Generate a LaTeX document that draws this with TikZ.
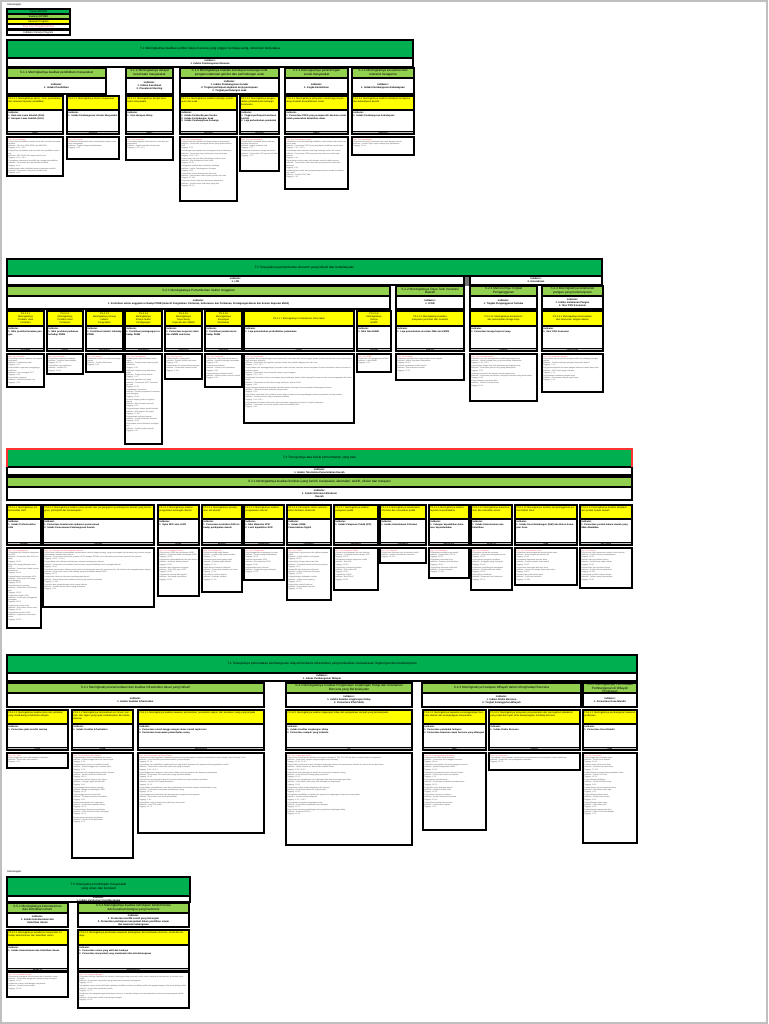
\documentclass[tikz,border=0pt]{standalone}
\usepackage{fontspec}
\setmainfont{Liberation Sans}
\usetikzlibrary{positioning}
\definecolor{hijau}{RGB}{0,176,80}
\definecolor{hijaumuda}{RGB}{146,208,80}
\definecolor{kuning}{RGB}{255,255,0}
\definecolor{merahmuda}{RGB}{255,80,80}
\definecolor{abu}{RGB}{85,85,85}
\tikzset{
  kotak/.style={draw=black, line width=0.7pt, fill=white},
  bayang/.style={fill=black!55},
  judul/.style={inner sep=0.5pt, align=center, font=\fontsize{1.8}{2.1}\selectfont},
  indik/.style={inner sep=0.5pt, align=center, font=\bfseries\fontsize{1.4}{1.7}\selectfont},
  tprg/.style={inner sep=0.8pt, align=left, font=\fontsize{1.35}{1.65}\selectfont},
  tind/.style={anchor=north, inner sep=0.8pt, align=left, font=\bfseries\fontsize{1.3}{1.6}\selectfont},
  tunit/.style={inner sep=0pt, font=\bfseries\fontsize{0.9}{1}\selectfont},
  tkeg/.style={anchor=north, inner sep=0.8pt, align=left, text=abu, font=\fontsize{1.05}{1.25}\selectfont},
  tleg/.style={inner sep=0pt, font=\fontsize{1.5}{1.7}\selectfont}
}
\newif\iftengah
\newcommand\ak[3]{#1\\Indikator: #2\\Tagging: #3\par\vspace{0.5pt}}
\newcommand\tujuan[9]{%
  \fill[bayang] ({#2+1.2},{#3+1.2}) rectangle ({#5+1.2},{#6+1.2});
  \filldraw[kotak] (#2,#3) rectangle (#5,#6);
  \filldraw[kotak,fill=#7] (#2,#3) rectangle (#5,#4);
  \node[judul] (#1) at ({(#2+#5)/2},{(#3+#4)/2}) {#8};
  \node[indik] (#1-i) at ({(#2+#5)/2},{(#4+#6)/2}) {#9};}
\newcommand\program[9]{%
  \pgfmathsetmacro\lbr{(#5-#2)*0.569-1.6}%
  \fill[bayang] ({#2+1.2},{#3+1.2}) rectangle ({#5+1.2},{#6+1.2});
  \filldraw[kotak] (#2,#3) rectangle (#5,#6);
  \filldraw[kotak,fill=kuning] (#2,#3) rectangle (#5,#4);
  \filldraw[kotak,fill=black!22] (#2,{#6-2.8}) rectangle (#5,#6);
  \iftengah
  \node[tprg,align=center,text width=\lbr pt] (#1) at ({(#2+#5)/2},{(#3+#4)/2}) {#7};
  \else
  \node[tprg,anchor=north,text width=\lbr pt] (#1) at ({(#2+#5)/2},#3) {#7};
  \fi
  \node[tind,text width=\lbr pt] (#1-i) at ({(#2+#5)/2},#4) {#8};
  \node[tunit] (#1-u) at ({(#2+#5)/2},{#6-1.4}) {#9};}
\newcommand\kegiatan[7]{%
  \pgfmathsetmacro\lbr{(#4-#2)*0.569-1.6}%
  \fill[bayang] ({#2+1.2},{#3+1.2}) rectangle ({#4+1.2},{#5+1.2});
  \filldraw[kotak] (#2,#3) rectangle (#4,#5);
  \node[tkeg,text width=\lbr pt] (#1) at ({(#2+#4)/2},#3) {\textcolor{merahmuda}{#6}\par #7};}
\newcommand\legenda[5]{%
  \fill[bayang] (8.2,{#2+1.2}) rectangle (71.2,{#2+6.2});
  \filldraw[kotak,fill=#3] (7,#2) rectangle (70,{#2+5});
  \node[tleg,text=#4] (#1) at (38.5,{#2+2.5}) {#5};}

\begin{document}
\begin{tikzpicture}[x=0.02cm, y=-0.02cm]
\useasboundingbox (0,0) rectangle (768,1024);
\draw[black!25, line width=0.9pt] (0.8,0.8) rectangle (767.2,1023.2);

\node[tleg, anchor=west] (ket) at (7,5) {Keterangan:};
\legenda{lg1}{9}{hijau}{black}{Tujuan RPJMD}
\legenda{lg2}{14}{hijaumuda}{black}{Sasaran RPJMD}
\legenda{lg3}{19}{kuning}{black}{Sasaran Program}
\legenda{lg4}{24}{white}{merahmuda}{Keg. Pro / Proyek Prioritas}
\legenda{lg5}{30}{white}{black}{Indikator Kinerja Program}

% tujuan 1
\tujuan{t1}{7}{40}{58}{413}{67}{hijau}{T.1 Meningkatnya kualitas sumber daya manusia yang unggul, berdaya saing, sehat dan berbudaya}{Indikator:\\1. Indeks Pembangunan Manusia}
\tujuan{s11}{7}{68}{78}{106}{94}{hijaumuda}{S.1.1 Meningkatnya kualitas pendidikan masyarakat}{Indikator:\\1. Indeks Pendidikan}
\tujuan{s12}{126}{68}{78}{173}{94}{hijaumuda}{S.1.2 Meningkatnya derajat\\kesehatan masyarakat}{Indikator:\\1. Indeks Kesehatan\\2. Prevalensi Stunting}
\tujuan{s13}{180}{68}{78}{279}{94}{hijaumuda}{S.1.3 Meningkatnya kualitas kehidupan keluarga serta\\pengarusutamaan gender dan perlindungan anak}{Indikator:\\1. Indeks Pembangunan Gender\\2. Tingkat partisipasi angkatan kerja perempuan\\3. Tingkat perlindungan anak}
\tujuan{s14}{285}{68}{78}{348}{94}{hijaumuda}{S.1.4 Meningkatnya perlindungan\\sosial masyarakat}{Indikator:\\1. Angka Kemiskinan}
\tujuan{s15}{352}{68}{78}{414}{94}{hijaumuda}{S.1.5 Meningkatnya kesalehan dan\\toleransi beragama}{Indikator:\\1. Indeks Pembangunan Kebudayaan}

\program{p111}{7}{96}{110}{63}{134}{PS.1.1.1 Meningkatnya akses, mutu, pemerataan, dan relevansi layanan pendidikan}{Indikator:\\1. Rata-rata Lama Sekolah (RLS)\\2. Harapan Lama Sekolah (HLS)}{DISDIK}
\program{p112}{67}{96}{110}{119}{134}{PS.1.1.2 Meningkatnya literasi masyarakat}{Indikator:\\1. Indeks Pembangunan Literasi Masyarakat}{DISARPUS}
\program{p121}{126}{96}{110}{173}{134}{PS.1.2.1 Meningkatnya derajat kesehatan masyarakat}{Indikator:\\1. Usia Harapan Hidup}{DINKES}
\program{p131}{180}{96}{110}{237}{134}{PS.1.3.1 Meningkatnya kualitas keluarga, perempuan dan anak}{Indikator:\\1. Indeks Pemberdayaan Gender\\2. Indeks Perlindungan Anak\\3. Indeks Pembangunan Keluarga}{DP3AP2KB}
\program{p132}{240}{96}{110}{279}{134}{PS.1.3.2 Meningkatnya pengendalian penduduk dan keluarga berencana}{Indikator:\\1. Tingkat partisipasi kesertaan ber-KB\\2. Laju pertumbuhan penduduk}{DP3AP2KB}
\program{p141}{285}{96}{110}{348}{134}{PS.1.4.1 Meningkatnya pelayanan sosial bagi penyandang masalah kesejahteraan sosial}{Indikator:\\1. Persentase PPKS yang memperoleh bantuan sosial untuk pemenuhan kebutuhan dasar}{DINSOS}
\program{p151}{352}{96}{110}{414}{134}{PS.1.5.1 Meningkatnya kualitas kehidupan beragama dan kebudayaan daerah}{Indikator:\\1. Indeks Pembangunan Kebudayaan}{DISBUDPAR}

\kegiatan{k111}{7}{137}{63}{176}{Keg. Pro Pendidikan}{%
\ak{Pengelolaan pendidikan sekolah dasar dan sekolah menengah pertama}{APK dan APM SD/MI dan SMP/MTs}{4.1.1, 4.2.2}
\ak{Pengelolaan pendidikan anak usia dini dan pendidikan nonformal}{APK PAUD dan angka melek huruf}{4.2.1, 4.6.1}
\ak{Peningkatan kompetensi pendidik dan tenaga kependidikan}{Persentase guru bersertifikat pendidik}{4.c.1}
\ak{Pembangunan dan rehabilitasi sarana prasarana sekolah}{Persentase ruang kelas kondisi baik}{4.a.1}}
\kegiatan{k112}{67}{137}{119}{159}{Keg. Pro Literasi}{%
\ak{Pembinaan perpustakaan dan pembudayaan gemar membaca masyarakat}{Tingkat Kegemaran Membaca}{4.6.1}}
\kegiatan{k121}{126}{137}{173}{160}{Keg. Pro Kesehatan}{%
\ak{Penyediaan layanan kesehatan ibu, anak dan gizi masyarakat}{Angka kematian ibu dan bayi}{2.2.1, 3.1.1}}
\kegiatan{k131}{180}{137}{237}{201}{Keg. Pro Pemberdayaan}{%
\ak{Pengarusutamaan gender dan pemberdayaan perempuan}{Persentase perangkat daerah yang melaksanakan PUG}{5.1.1}
\ak{Perlindungan perempuan dan penanganan kasus kekerasan}{Persentase kasus kekerasan yang tertangani}{5.2.1, 5.2.2}
\ak{Pemenuhan hak anak dan perlindungan khusus anak}{Nilai Kabupaten Layak Anak}{16.2.1}
\ak{Peningkatan kualitas dan ketahanan keluarga}{Indeks Pembangunan Keluarga}{5.4.1}
\ak{Pengelolaan sistem data gender dan anak}{Ketersediaan data terpilah gender dan anak}{17.18.1}
\ak{Penguatan forum anak dan partisipasi masyarakat}{Jumlah forum anak desa yang aktif}{16.7.2}}
\kegiatan{k132}{240}{137}{279}{171}{Keg. Pro Kependudukan}{%
\ak{Pengendalian penduduk dan pembinaan keluarga berencana}{Angka kelahiran total}{3.7.1}
\ak{Pembinaan ketahanan remaja dan lansia}{Persentase PUS peserta KB aktif}{3.7.2}}
\kegiatan{k141}{285}{137}{348}{189}{Keg. Pro Perlindungan Sosial}{%
\ak{Rehabilitasi sosial penyandang disabilitas, anak terlantar dan lanjut usia di luar panti}{Persentase PPKS yang mendapat rehabilitasi sosial dasar}{1.3.1, 10.2.1}
\ak{Perlindungan dan jaminan sosial bagi keluarga miskin dan rentan}{Persentase KPM yang menerima bantuan sosial tepat sasaran}{1.3.1}
\ak{Penanganan bencana dan perlindungan sosial korban bencana}{Persentase korban bencana yang terpenuhi kebutuhan dasarnya}{1.5.1}
\ak{Pemberdayaan sosial dan pengembangan potensi sumber kesejahteraan sosial}{Jumlah PSKS aktif}{1.4.1}}
\kegiatan{k151}{352}{137}{414}{155}{Keg. Pro Kebudayaan}{%
\ak{Pelestarian kesenian tradisional dan cagar budaya daerah}{Jumlah objek cagar budaya yang dilestarikan}{11.4.1}}

% tujuan 2
\fill[bayang] (8.2,260.2) rectangle (603.2,286.2);
\filldraw[kotak,fill=hijau] (7,259) rectangle (602,276);
\filldraw[kotak] (7,276) rectangle (464,285);
\filldraw[kotak] (470,276) rectangle (602,285);
\node[judul] (t2) at (304.5,267.5) {T.2 Terwujudnya pertumbuhan ekonomi yang inklusif dan berkelanjutan};
\node[indik] (t2-i) at (235.5,280.5) {Indikator:\\1. LPE};
\node[indik] (t2-j) at (536,280.5) {Indikator:\\2. Kemiskinan};
\tujuan{s21}{7}{286}{296}{390}{309}{hijaumuda}{S.2.1 Meningkatnya Pertumbuhan Sektor Unggulan}{Indikator:\\1. Kontribusi sektor unggulan terhadap PDRB (Industri Pengolahan, Pertanian, Kehutanan, dan Perikanan, Perdagangan Besar dan Eceran Reparasi Mobil)}
\tujuan{s22}{396}{286}{296}{464}{309}{hijaumuda}{S.2.2 Meningkatnya Daya Tarik Investasi\\Daerah}{Indikator:\\1. ICOR}
\tujuan{s23}{470}{286}{296}{537}{309}{hijaumuda}{S.2.3 Menurunnya Tingkat\\Pengangguran}{Indikator:\\1. Tingkat Pengangguran Terbuka}
\tujuan{s24}{542}{286}{296}{603}{309}{hijaumuda}{S.2.4 Meningkatnya ketahanan\\pangan yang berkelanjutan}{Indikator:\\1. Indeks Ketahanan Pangan\\2. Skor PPH Konsumsi}

\tengahtrue
\program{p211}{7}{311}{326}{44}{351}{PS.2.1.1\\Meningkatnya\\Produksi Hasil\\Pertanian}{Indikator:\\1. Nilai produksi tanaman pangan}{DISTANBUN}
\program{p212}{47}{311}{326}{83}{351}{PS.2.1.2\\Meningkatnya\\Produksi Hasil\\Perikanan}{Indikator:\\1. Nilai produksi perikanan terhadap PDRB}{DISKAN}
\program{p213}{86}{311}{326}{123}{351}{PS.2.1.3\\Meningkatnya Kinerja\\Industri\\Pengolahan}{Indikator:\\1. Kontribusi industri terhadap PDRB}{DISPERINDAG}
\program{p214}{125}{311}{326}{162}{351}{PS.2.1.4\\Meningkatnya\\Kinerja Sektor\\Perdagangan}{Indikator:\\1. Kontribusi perdagangan terhadap PDRB}{DISPERINDAG}
\program{p215}{165}{311}{326}{202}{351}{PS.2.1.5\\Meningkatnya\\Daya Saing\\Koperasi dan UMKM}{Indikator:\\1. Persentase koperasi sehat dan UMKM naik kelas}{DISKOPUKM}
\program{p216}{205}{311}{326}{242}{351}{PS.2.1.6\\Meningkatnya\\Kunjungan\\Wisatawan}{Indikator:\\1. Kontribusi pariwisata terhadap PDRB}{DISBUDPAR}
\program{p217}{244}{311}{326}{354}{351}{PS.2.1.7 Meningkatnya Produktivitas Peternakan}{Indikator:\\1. Laju pertumbuhan produktivitas peternakan}{DISNAK}
\program{p218}{357}{311}{326}{391}{351}{PS.2.1.8\\Meningkatnya\\Kinerja\\BUMD}{Indikator:\\1. Nilai laba BUMD}{EKONOMI}
\program{p221}{396}{311}{326}{464}{351}{PS.2.2.1 Meningkatnya kualitas\\pelayanan perizinan dan investasi}{Indikator:\\1. Laju pertumbuhan investasi PMA dan PMDN}{DPMPTSP}
\program{p231}{470}{311}{326}{537}{351}{PS.2.3.1 Meningkatnya kompetensi\\dan penempatan tenaga kerja}{Indikator:\\1. Persentase tenaga kerja terserap}{DISNAKER}
\program{p241}{542}{311}{326}{603}{351}{PS.2.4.1 Meningkatnya ketersediaan\\dan keamanan pangan daerah}{Indikator:\\1. Skor PPH Konsumsi}{DISKETAPANG}
\tengahfalse

\kegiatan{k211}{7}{354}{44}{387}{Keg. Pro Pertanian}{%
\ak{Penyediaan sarana pertanian dan pupuk bersubsidi}{Produktivitas padi}{2.3.1}
\ak{Pengendalian organisme pengganggu tumbuhan}{Luas serangan OPT}{2.4.1}
\ak{Penyuluhan pertanian}{Jumlah kelompok tani}{2.3.2}}
\kegiatan{k212}{47}{354}{83}{374}{Keg. Pro Perikanan}{%
\ak{Pengelolaan perikanan budidaya}{Produksi ikan budidaya}{14.7.1}
\ak{Pengolahan hasil perikanan}{Jumlah UPI}{14.b.1}}
\kegiatan{k213}{86}{354}{123}{372}{Keg. Pro Industri}{%
\ak{Pembinaan industri kecil dan menengah daerah}{Jumlah IKM binaan}{9.3.1}}
\kegiatan{k214}{125}{354}{162}{444}{Keg. Pro Perdagangan}{%
\ak{Pembangunan dan revitalisasi pasar rakyat}{Jumlah pasar rakyat yang direvitalisasi}{8.3.1}
\ak{Stabilisasi harga barang kebutuhan pokok}{Tingkat inflasi daerah}{2.c.1}
\ak{Metrologi legal dan tera ulang}{Persentase UTTP bertanda tera sah}{12.8.1}
\ak{Perlindungan konsumen}{Jumlah pengaduan konsumen yang ditangani}{12.8.1}
\ak{Promosi dagang produk unggulan daerah}{Nilai transaksi promosi}{8.2.1}
\ak{Pengembangan ekspor produk daerah}{Nilai ekspor non migas}{17.11.1}
\ak{Pengawasan distribusi barang}{Jumlah distributor terawasi}{12.8.1}
\ak{Penyediaan sarana distribusi perdagangan}{Jumlah gudang logistik}{9.1.1}}
\kegiatan{k215}{165}{354}{202}{379}{Keg. Pro Koperasi}{%
\ak{Pemberdayaan usaha mikro}{Jumlah UMKM naik kelas}{8.3.1}
\ak{Pengawasan dan pemeriksaan koperasi}{Persentase koperasi sehat}{8.10.1}}
\kegiatan{k216}{205}{354}{242}{387}{Keg. Pro Pariwisata}{%
\ak{Pengelolaan daya tarik wisata daerah}{Jumlah kunjungan wisatawan}{8.9.1}
\ak{Pemasaran pariwisata}{Jumlah event pariwisata}{8.9.1}
\ak{Pengembangan ekonomi kreatif}{Jumlah pelaku ekonomi kreatif}{8.3.1}}
\kegiatan{k217}{244}{354}{354}{423}{Keg. Pro Peternakan}{%
\ak{Penyediaan dan pengembangan sarana pertanian, benih dan bibit ternak unggul, pakan ternak serta alat dan mesin peternakan bagi kelompok peternak}{Persentase peningkatan populasi ternak dan produksi daging, telur dan susu}{2.3.1, 2.4.1}
\ak{Pengendalian dan penanggulangan penyakit hewan menular strategis serta peningkatan layanan kesehatan hewan di pusat kesehatan hewan}{Persentase kasus penyakit hewan yang tertangani}{2.5.1, 3.3.1}
\ak{Penjaminan kesehatan hewan, penutupan dan pembukaan daerah wabah penyakit hewan menular serta pengawasan lalu lintas ternak}{Persentase produk hewan yang memenuhi syarat ASUH}{3.d.1}
\ak{Pengembangan kawasan peternakan terpadu berbasis kelompok dan penguatan kelembagaan peternak}{Jumlah kelompok peternak yang mandiri}{2.3.2}
\ak{Penyuluhan peternakan dan pelatihan teknis bagi peternak serta pengembangan usaha pengolahan hasil peternakan}{Jumlah peternak yang mendapat pelatihan}{2.3.2, 8.3.1}
\ak{Pengawasan peredaran obat hewan dan kesehatan masyarakat veteriner di tingkat kabupaten}{Persentase unit usaha produk hewan bersertifikat NKV}{3.d.1}}
\kegiatan{k218}{357}{354}{391}{372}{Keg. Pro BUMD}{%
\ak{Pembinaan dan pengawasan BUMD}{Laba BUMD}{8.2.1}}
\kegiatan{k221}{396}{354}{464}{380}{Keg. Pro Investasi}{%
\ak{Pelayanan perizinan dan nonperizinan secara terpadu}{Indeks Kepuasan Masyarakat}{16.6.2}
\ak{Promosi penanaman modal daerah}{Nilai realisasi investasi}{17.5.1}}
\kegiatan{k231}{470}{354}{537}{401}{Keg. Pro Ketenagakerjaan}{%
\ak{Pelatihan kerja dan peningkatan produktivitas tenaga kerja}{Jumlah tenaga kerja yang bersertifikat kompetensi}{4.4.1, 8.6.1}
\ak{Penempatan tenaga kerja dan perluasan kesempatan kerja}{Persentase pencari kerja yang ditempatkan}{8.5.2}
\ak{Hubungan industrial dan jaminan sosial tenaga kerja}{Persentase perselisihan hubungan industrial yang diselesaikan}{8.8.2}
\ak{Pengembangan wirausaha baru}{Jumlah wirausaha baru}{8.3.1}}
\kegiatan{k241}{542}{354}{603}{392}{Keg. Pro Ketahanan Pangan}{%
\ak{Penyediaan dan penyaluran pangan pokok dan cadangan pangan daerah}{Jumlah cadangan pangan pemerintah daerah}{2.1.2}
\ak{Penganekaragaman konsumsi pangan berbasis sumber daya lokal}{Skor Pola Pangan Harapan}{2.1.1}
\ak{Pengawasan keamanan pangan segar}{Persentase pangan segar aman}{2.1.2}}

% tujuan 3
\tujuan{t3}{7}{449}{467}{632}{475}{hijau}{T.3 Terwujudnya tata kelola pemerintahan yang baik}{Indikator:\\1. Indeks Tata Kelola Pemerintahan Daerah}
\draw[red!80, line width=0.7pt] (7,467) -- (7,449) -- (632,449) -- (632,467);
\tujuan{s31}{7}{477}{487}{632}{500}{hijaumuda}{S.3.1 Meningkatnya kualitas birokrasi yang bersih, transparan, akuntabel, efektif, efisien dan melayani}{Indikator:\\1. Indeks Reformasi Birokrasi\\Daerah}

\program{p311}{7}{505}{519}{41}{545}{PS.3.1.1 Meningkatnya profesionalitas ASN}{Indikator:\\1. Indeks Profesionalitas ASN}{BKPSDM}
\program{p312}{43}{505}{519}{154}{545}{PS.3.1.2 Meningkatnya kualitas perencanaan dan penganggaran pembangunan daerah yang terintegrasi, partisipatif dan berkelanjutan}{Indikator:\\1. Persentase keselarasan dokumen perencanaan\\2. Indeks Perencanaan Pembangunan Daerah}{BAPPEDA}
\program{p313}{158}{505}{519}{199}{545}{PS.3.1.3 Meningkatnya kualitas pengelolaan keuangan daerah}{Indikator:\\1. Opini BPK atas LKPD}{BPKAD}
\program{p314}{202}{505}{519}{242}{545}{PS.3.1.4 Meningkatnya pendapatan asli daerah}{Indikator:\\1. Persentase kontribusi PAD terhadap pendapatan daerah}{BAPENDA}
\program{p315}{244}{505}{519}{284}{545}{PS.3.1.5 Meningkatnya kualitas pengawasan internal}{Indikator:\\1. Nilai Maturitas SPIP\\2. Level kapabilitas APIP}{INSPEKTORAT}
\program{p316}{287}{505}{519}{331}{545}{PS.3.1.6 Penerapan sistem pemerintahan berbasis elektronik}{Indikator:\\1. Indeks SPBE\\Pemerintahan Digital}{DISKOMINFO}
\program{p317}{334}{505}{519}{378}{545}{PS.3.1.7 Meningkatnya kualitas pelayanan publik}{Indikator:\\1. Indeks Pelayanan Publik (IPP)}{ORGANISASI}
\program{p318}{380}{505}{519}{426}{545}{PS.3.1.8 Meningkatnya keterbukaan informasi dan komunikasi publik}{Indikator:\\1. Indeks Keterbukaan Informasi}{DISKOMINFO}
\program{p319}{429}{505}{519}{469}{545}{PS.3.1.9 Meningkatnya kualitas layanan kependudukan}{Indikator:\\1. Cakupan kepemilikan dokumen kependudukan}{DISDUKCAPIL}
\program{p3110}{471}{505}{519}{512}{545}{PS.3.1.10 Meningkatnya ketenteraman dan ketertiban umum}{Indikator:\\1. Indeks Ketenteraman dan Ketertiban}{SATPOL PP}
\program{p3111}{515}{505}{519}{577}{545}{PS.3.1.11 Meningkatnya kualitas penyelenggaraan pemerintahan desa}{Indikator:\\1. Indeks Desa Membangun (IDM) dan Status Kemajuan Desa}{DPMD}
\program{p3112}{580}{505}{519}{632}{545}{PS.3.1.12 Meningkatnya kualitas kebijakan dan produk hukum daerah}{Indikator:\\1. Persentase produk hukum daerah yang tidak dibatalkan}{BAG. HUKUM}

\kegiatan{k311}{7}{548}{41}{628}{Keg. Pro Kepegawaian}{%
\ak{Pengadaan dan informasi kepegawaian ASN}{Persentase data ASN mutakhir}{16.6.1}
\ak{Mutasi dan pengembangan karier ASN}{Persentase jabatan sesuai kompetensi}{16.6.1}
\ak{Pengembangan kompetensi ASN}{Persentase ASN yang dikembangkan}{16.6.2}
\ak{Penilaian kinerja aparatur}{Persentase ASN kinerja baik}{16.6.1}
\ak{Pembinaan disiplin ASN}{Persentase pelanggaran tertangani}{16.5.1}
\ak{Pengelolaan sistem merit}{Nilai indeks sistem merit}{16.6.2}
\ak{Pengelolaan pensiun ASN}{Layanan pensiun tepat waktu}{16.6.2}}
\kegiatan{k312}{43}{548}{154}{607}{Keg. Pro Perencanaan Pembangunan Daerah}{%
\ak{Penyusunan dokumen perencanaan pembangunan daerah jangka panjang, jangka menengah dan tahunan yang selaras dengan perencanaan nasional dan provinsi}{Persentase kesesuaian program RKPD dengan RPJMD serta dokumen perencanaan nasional dan provinsi}{16.6.1, 17.14.1}
\ak{Pengendalian dan evaluasi pelaksanaan rencana pembangunan daerah}{Persentase rekomendasi hasil evaluasi yang ditindaklanjuti oleh perangkat daerah}{16.6.1}
\ak{Koordinasi perencanaan bidang pemerintahan, pembangunan manusia, perekonomian, infrastruktur dan pengembangan wilayah}{Persentase usulan musrenbang yang terakomodasi dalam RKPD}{16.7.1}
\ak{Pengelolaan data dan informasi pembangunan daerah}{Ketersediaan data statistik sektoral yang valid dan mutakhir}{17.18.1}
\ak{Penelitian dan pengembangan serta inovasi daerah}{Jumlah inovasi daerah yang diterapkan}{9.5.1}}
\kegiatan{k313}{158}{548}{199}{596}{Keg. Pro Keuangan Daerah}{%
\ak{Penyusunan APBD dan perubahan APBD}{Ketepatan waktu penetapan APBD}{16.6.1}
\ak{Pengelolaan perbendaharaan dan kas daerah}{Realisasi belanja daerah}{16.6.1}
\ak{Akuntansi dan pelaporan keuangan}{Opini BPK atas LKPD}{16.6.1}
\ak{Pengelolaan barang milik daerah}{Aset yang tersertifikasi}{16.6.1}}
\kegiatan{k314}{202}{548}{242}{592}{Keg. Pro Pendapatan}{%
\ak{Pendataan objek pajak daerah}{Jumlah wajib pajak terdaftar}{17.1.1}
\ak{Penetapan dan pemungutan pajak}{Realisasi pajak daerah}{17.1.2}
\ak{Pajak daerah berbasis elektronik}{Persentase transaksi non tunai}{17.1.1}
\ak{Intensifikasi retribusi daerah}{Realisasi retribusi}{17.1.2}}
\kegiatan{k315}{244}{548}{284}{580}{Keg. Pro Pengawasan}{%
\ak{Penyelenggaraan pengawasan internal}{Temuan yang ditindaklanjuti}{16.5.1}
\ak{Asistensi penerapan SPIP}{Nilai maturitas SPIP}{16.6.1}
\ak{Pengawasan tujuan tertentu}{Pengaduan yang ditangani}{16.5.2}}
\kegiatan{k316}{287}{548}{331}{600}{Keg. Pro SPBE}{%
\ak{Pengelolaan e-government dan aplikasi layanan publik}{Jumlah aplikasi terintegrasi}{16.6.2}
\ak{Infrastruktur jaringan dan pusat data}{Perangkat daerah terhubung jaringan}{9.c.1}
\ak{Persandian dan keamanan informasi}{Indeks keamanan informasi}{16.10.2}
\ak{Pengembangan kabupaten cerdas}{Indeks smart regency}{11.3.2}
\ak{Pengelolaan statistik sektoral}{Data statistik tersedia}{17.18.1}}
\kegiatan{k317}{334}{548}{378}{590}{Keg. Pro Pelayanan Publik}{%
\ak{Penataan kelembagaan dan tata laksana}{Perangkat daerah dengan SOP}{16.6.1}
\ak{Peningkatan kualitas pelayanan publik}{Nilai IKM}{16.6.2}
\ak{Pengelolaan reformasi birokrasi}{Nilai indeks RB}{16.6.1}
\ak{Pengelolaan SAKIP}{Nilai SAKIP}{16.6.1}}
\kegiatan{k318}{380}{548}{426}{563}{Keg. Pro Informasi}{%
\ak{Pengelolaan informasi dan komunikasi publik}{Indeks Keterbukaan Informasi}{16.10.2}}
\kegiatan{k319}{429}{548}{469}{578}{Keg. Pro Adminduk}{%
\ak{Pelayanan pendaftaran penduduk}{Kepemilikan KTP-el}{16.9.1}
\ak{Pelayanan pencatatan sipil}{Cakupan akta kelahiran}{16.9.1}
\ak{Pengelolaan informasi adminduk}{Data terintegrasi}{17.18.1}}
\kegiatan{k3110}{471}{548}{512}{590}{Keg. Pro Trantibum}{%
\ak{Penegakan perda dan perkada}{Persentase penegakan perda}{16.3.1}
\ak{Penanganan gangguan trantibum}{Gangguan yang tertangani}{16.1.4}
\ak{Pembinaan perlindungan masyarakat}{Jumlah satlinmas terlatih}{16.1.4}
\ak{Pencegahan kebakaran}{Response time kebakaran}{11.5.1}}
\kegiatan{k3111}{515}{548}{577}{585}{Keg. Pro Pemerintahan Desa}{%
\ak{Pembinaan penyelenggaraan pemerintahan desa}{Desa dengan tata kelola baik}{16.6.1}
\ak{Peningkatan kapasitas aparatur desa}{Jumlah aparatur desa terlatih}{16.6.2}
\ak{Pengelolaan keuangan dan aset desa}{Laporan keuangan desa tepat waktu}{16.6.1}
\ak{Penataan dan administrasi desa}{Profil desa mutakhir}{17.18.1}}
\kegiatan{k3112}{580}{548}{632}{588}{Keg. Pro Hukum}{%
\ak{Penyusunan dan harmonisasi produk hukum daerah}{Produk hukum yang ditetapkan}{16.3.1}
\ak{Bantuan dan penyuluhan hukum}{Jumlah desa sadar hukum}{16.3.1}
\ak{Dokumentasi dan informasi hukum}{Produk hukum terpublikasi}{16.10.2}
\ak{Penanganan perkara hukum daerah}{Perkara yang dimenangkan}{16.3.1}}

% tujuan 4
\tujuan{t4}{7}{655}{673}{637}{681}{hijau}{T.4 Terwujudnya pemerataan pembangunan wilayah berbasis infrastruktur yang berkualitas, berwawasan lingkungan dan berkelanjutan}{Indikator:\\1. Indeks Pembangunan Wilayah}
\tujuan{s41}{7}{683}{693}{264}{707}{hijaumuda}{S.4.1 Meningkatnya ketersediaan dan kualitas infrastruktur dasar yang inklusif}{Indikator:\\1. Indeks Kualitas Infrastruktur}
\tujuan{s42}{286}{683}{693}{412}{707}{hijaumuda}{S.4.2 Meningkatnya Kualitas Pengelolaan Lingkungan Hidup dan Ketahanan\\Bencana yang Berkelanjutan}{Indikator:\\1. Indeks Kualitas Lingkungan Hidup\\2. Persentase RTH Publik}
\tujuan{s43}{422}{683}{693}{581}{707}{hijaumuda}{S.4.3 Meningkatnya Kesiapan Wilayah dalam Menghadapi Bencana}{Indikator:\\1. Indeks Risiko Bencana\\2. Tingkat Ketangguhan Wilayah}
\tujuan{s44}{583}{683}{693}{637}{707}{hijaumuda}{S.4.4 Meningkatnya Pemerataan\\Pembangunan di Wilayah\\Perdesaan}{Indikator:\\1. Persentase Desa Mandiri}

\program{p411}{7}{710}{724}{68}{750}{PS.4.1.1 Meningkatnya kualitas jalan dan jembatan yang mendukung konektivitas wilayah}{Indikator:\\1. Persentase jalan kondisi mantap}{DPUPR}
\program{p412}{72}{710}{724}{133}{750}{PS.4.1.2 Meningkatnya ketersediaan air minum, sanitasi, dan irigasi yang layak, berkelanjutan dan berketahanan}{Indikator:\\1. Indeks Kualitas Infrastruktur}{DPUPR}
\program{p413}{138}{710}{724}{264}{750}{PS.4.1.3 Meningkatnya kualitas kawasan permukiman, perumahan rakyat, dan penataan ruang yang terpadu}{Indikator:\\1. Persentase rumah tangga dengan akses rumah layak huni\\2. Persentase kesesuaian pemanfaatan ruang}{DISPERKIMTAN}
\program{p421}{286}{710}{724}{412}{750}{PS.4.2.1 Meningkatnya kualitas lingkungan hidup dan pengelolaan sampah yang berkelanjutan}{Indikator:\\1. Indeks Kualitas Lingkungan Hidup\\2. Persentase sampah yang terkelola}{DLH}
\program{p431}{423}{710}{724}{486}{750}{PS.4.3.1 Meningkatnya kapasitas penanggulangan bencana daerah dan kesiapsiagaan masyarakat}{Indikator:\\1. Persentase penduduk terlayani\\2. Persentase kawasan rawan bencana yang ditangani}{BPBD}
\program{p432}{489}{710}{724}{580}{750}{PS.4.3.2 Meningkatnya pelayanan penyelamatan dan pencegahan kebakaran yang cepat dan tepat serta kesiapsiagaan terhadap bencana}{Indikator:\\1. Indeks Risiko Bencana}{DAMKAR}
\program{p441}{583}{710}{724}{637}{750}{PS.4.4.1 Meningkatnya pembangunan kawasan perdesaan}{Indikator:\\1. Persentase Desa Mandiri}{DPMD}

\kegiatan{k411}{7}{753}{68}{768}{Keg. Pro Jalan}{%
\ak{Penyelenggaraan jalan dan jembatan kabupaten}{Persentase jalan mantap}{9.1.1}}
\kegiatan{k412}{72}{753}{133}{858}{Keg. Pro Air Minum dan Sanitasi}{%
\ak{Pengembangan sistem penyediaan air minum}{Rumah tangga akses air minum layak}{6.1.1}
\ak{Pengembangan sistem air limbah domestik}{Rumah tangga akses sanitasi layak}{6.2.1}
\ak{Pengelolaan dan pengembangan sistem drainase}{Saluran drainase kondisi baik}{11.5.2}
\ak{Pengelolaan sumber daya air dan irigasi}{Jaringan irigasi kondisi baik}{6.4.1}
\ak{Penyelenggaraan bangunan gedung}{Bangunan gedung ber-PBG}{11.1.1}
\ak{Penyelenggaraan jasa konstruksi}{Tenaga konstruksi bersertifikat}{8.5.1}
\ak{Penataan bangunan dan lingkungan}{Persentase kawasan tertata}{11.3.1}
\ak{Pengembangan kawasan permukiman}{Luas kawasan kumuh tertangani}{11.1.1}
\ak{Pembangunan air bersih perdesaan}{Jumlah SPAM perdesaan}{6.1.1}}
\kegiatan{k413}{138}{753}{264}{833}{Keg. Pro Perumahan dan Permukiman}{%
\ak{Pendataan penyelenggaraan kawasan permukiman dan penanganan kawasan permukiman kumuh dengan luas di bawah 10 ha}{Luas kawasan permukiman kumuh yang tertangani}{11.1.1}
\ak{Penyediaan dan rehabilitasi rumah layak huni bagi korban bencana dan masyarakat berpenghasilan rendah}{Persentase rumah tidak layak huni yang tertangani}{1.4.1, 11.1.1}
\ak{Penyelenggaraan prasarana, sarana dan utilitas umum perumahan dan kawasan permukiman}{Persentase PSU perumahan yang diserahterimakan}{11.1.1}
\ak{Penyusunan rencana tata ruang dan rencana detail tata ruang kawasan perkotaan}{Jumlah RDTR yang ditetapkan}{11.3.1}
\ak{Pengendalian pemanfaatan ruang dan pelaksanaan kesesuaian kegiatan pemanfaatan ruang}{Persentase kesesuaian pemanfaatan ruang}{11.3.1}
\ak{Penyelenggaraan pertanahan dan penyelesaian sengketa tanah garapan}{Persentase aset tanah bersertifikat}{1.4.2}
\ak{Penyediaan ruang terbuka hijau publik dan taman kota}{Luas RTH publik}{11.7.1}}
\kegiatan{k421}{286}{753}{412}{845}{Keg. Pro Lingkungan Hidup}{%
\ak{Pengelolaan persampahan melalui penanganan sampah di TPA, TPS 3R dan bank sampah berbasis masyarakat}{Persentase sampah yang tertangani dan terkurangi}{11.6.1, 12.5.1}
\ak{Pengendalian pencemaran dan kerusakan lingkungan hidup serta pemantauan kualitas air, udara dan tutupan lahan}{Indeks Kualitas Air dan Indeks Kualitas Udara}{6.3.2, 11.6.2}
\ak{Pengelolaan keanekaragaman hayati dan konservasi kawasan lindung}{Luas kawasan lindung yang terpelihara}{15.1.2}
\ak{Pembinaan dan pengawasan izin lingkungan dan dokumen lingkungan hidup}{Persentase usaha yang taat terhadap izin lingkungan}{12.6.1}
\ak{Pengelolaan limbah bahan berbahaya dan beracun}{Persentase limbah B3 yang terkelola}{12.4.2}
\ak{Peningkatan pendidikan, pelatihan dan penyuluhan lingkungan hidup untuk masyarakat}{Jumlah sekolah adiwiyata}{4.7.1, 13.3.1}
\ak{Penanganan pengaduan lingkungan hidup}{Persentase pengaduan yang ditangani}{16.7.2}
\ak{Penyusunan rencana perlindungan dan pengelolaan lingkungan hidup}{Dokumen RPPLH}{11.a.1}}
\kegiatan{k431}{423}{753}{486}{830}{Keg. Pro Penanggulangan Bencana}{%
\ak{Pelayanan informasi rawan bencana}{Persentase desa tangguh bencana}{11.b.2}
\ak{Pelayanan pencegahan dan kesiapsiagaan bencana}{Jumlah masyarakat terlatih}{13.1.3}
\ak{Pelayanan penyelamatan dan evakuasi korban}{Persentase korban terevakuasi}{1.5.1}
\ak{Penanganan pascabencana}{Persentase rehabilitasi pascabencana}{11.5.2}
\ak{Pengkajian risiko bencana daerah}{Dokumen kajian risiko}{13.1.2}
\ak{Penyusunan rencana kontinjensi}{Jumlah dokumen kontinjensi}{13.1.2}
\ak{Pengelolaan logistik kebencanaan}{Ketersediaan logistik}{1.5.1}}
\kegiatan{k432}{489}{753}{580}{770}{Keg. Pro Kebakaran}{%
\ak{Pencegahan, pengendalian, pemadaman, penyelamatan dan penanganan bahan berbahaya}{Response time penanganan kebakaran}{11.5.1}}
\kegiatan{k441}{583}{753}{637}{843}{Keg. Pro Perdesaan}{%
\ak{Penyelenggaraan penataan desa}{Jumlah desa definitif}{16.6.1}
\ak{Fasilitasi kerja sama antar desa}{Jumlah kerja sama desa}{17.17.1}
\ak{Pemberdayaan lembaga kemasyarakatan desa}{Jumlah LKD aktif}{16.7.2}
\ak{Pengembangan BUMDes}{Jumlah BUMDes maju}{8.3.1}
\ak{Pembangunan sarana prasarana desa}{Infrastruktur desa baik}{9.1.1}
\ak{Pengembangan desa wisata}{Jumlah desa wisata}{8.9.1}
\ak{Pengembangan pasar desa}{Pasar desa aktif}{8.3.1}
\ak{Pemberdayaan masyarakat desa}{Indeks Desa Membangun}{1.4.1}}

% tujuan 5
\node[tleg, anchor=west] (ket2) at (7,872) {Keterangan:};
\tujuan{t5}{7}{877}{896}{190}{902}{hijau}{T.5 Terwujudnya kehidupan masyarakat\\yang aman dan kondusif}{Indikator:\\1. Indeks Kerukunan Umat Beragama}
\tujuan{s51}{7}{903}{913}{68}{927}{hijaumuda}{S.5.1 Meningkatnya ketenteraman\\dan ketertiban umum}{Indikator:\\1. Indeks Ketenteraman dan\\Ketertiban Umum}
\tujuan{s52}{78}{903}{913}{189}{927}{hijaumuda}{S.5.2 Meningkatnya kualitas kehidupan berdemokrasi\\dan kesatuan bangsa yang harmonis}{Indikator:\\1. Persentase konflik sosial yang tertangani\\2. Persentase partisipasi masyarakat dalam pemilihan umum\\dan wawasan kebangsaan}
\program{p511}{7}{930}{945}{68}{971}{PS.5.1.1 Meningkatnya kesadaran masyarakat terhadap ketenteraman dan ketertiban umum}{Indikator:\\1. Indeks Ketenteraman dan Ketertiban Umum}{SATPOL PP}
\program{p521}{78}{930}{945}{189}{971}{PS.5.2.1 Meningkatnya pembinaan wawasan kebangsaan dan ketahanan ekonomi, sosial dan budaya}{Indikator:\\1. Persentase ormas yang aktif dan berdaya\\2. Persentase masyarakat yang memahami nilai-nilai kebangsaan}{BAKESBANGPOL}
\kegiatan{k511}{7}{972}{68}{997}{Keg. Pro Ketertiban Umum}{%
\ak{Penanganan gangguan ketenteraman dan ketertiban umum}{Persentase gangguan trantibum yang tertangani}{16.1.4}
\ak{Pembinaan satuan perlindungan masyarakat}{Jumlah linmas terlatih}{16.1.4}}
\kegiatan{k521}{78}{972}{189}{1008}{Keg. Pro Kesatuan Bangsa}{%
\ak{Penguatan ideologi Pancasila dan karakter kebangsaan bagi generasi muda, tokoh masyarakat dan aparatur di seluruh kecamatan}{Persentase masyarakat yang memahami wawasan kebangsaan}{16.7.2}
\ak{Peningkatan peran partai politik dan lembaga pendidikan melalui pendidikan politik dan pengembangan etika serta budaya politik}{Persentase partisipasi pemilih}{16.7.2}
\ak{Pembinaan dan pengembangan ketahanan ekonomi, sosial dan budaya serta kewaspadaan nasional dan penanganan konflik sosial}{Persentase konflik sosial yang tertangani}{16.1.4}}
\end{tikzpicture}
\end{document}
